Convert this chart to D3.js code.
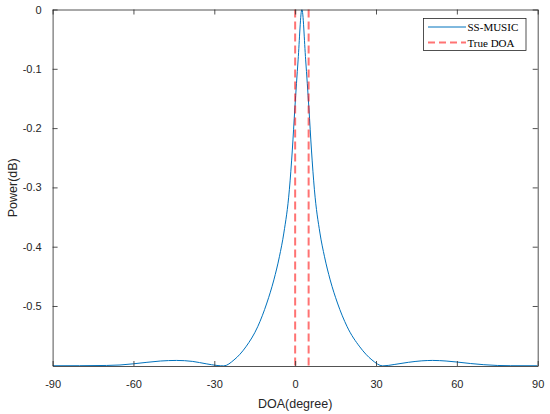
<!DOCTYPE html>
<html>
<head>
<meta charset="utf-8">
<script src="https://cdn.jsdelivr.net/npm/d3@7"></script>
<style>
  body { margin: 0; background: #fff; }
  text { font-family: "Liberation Sans", Arial, sans-serif; }
</style>
</head>
<body>
<div id="chart"></div>
<script>
// spectrum (degree, dB)
const doa = [-90, -80, -70, -65, -60, -55, -50, -44, -38, -33, -29, -26.5,
  -22.7, -18.3, -13.9, -10.5, -7.9, -5.85, -4.2, -2.15, -1.05, -0.1, 1.1, 2.5,
  3.9, 5.1, 6.05, 7.15, 9.2, 10.9, 13.0, 15.7, 19.3, 24.0, 28.5, 32.5,
  37, 42, 47, 51, 56, 60, 65, 70, 75, 80, 90];
const power = [-0.6008, -0.6007, -0.6003, -0.5995, -0.5975, -0.595, -0.5928, -0.5918, -0.5935, -0.5975, -0.6003, -0.601,
  -0.591, -0.569, -0.535, -0.495, -0.456, -0.417, -0.377, -0.304, -0.237, -0.166, -0.085, 0,
  -0.085, -0.166, -0.237, -0.304, -0.377, -0.417, -0.456, -0.495, -0.535, -0.569, -0.591, -0.601,
  -0.5985, -0.595, -0.5925, -0.5918, -0.5928, -0.5945, -0.597, -0.599, -0.6003, -0.6007, -0.6008];
const trueDoa = [0, 5];
const xTicks = [-90, -60, -30, 0, 30, 60, 90];
const yTicks = [0, -0.1, -0.2, -0.3, -0.4, -0.5];
const legendLabels = ["SS-MUSIC", "True DOA"];

const width = 550;
const height = 414;
const margin = { top: 9.5, bottom: 48, left: 52.6, right: 12.3 };
const axisColor = "#262626";

const svg = d3.select("#chart")
  .append("svg")
  .attr("width", width)
  .attr("height", height);

const x = d3.scaleLinear()
  .domain([-90, 90])
  .range([margin.left, width - margin.right]);

const y = d3.scaleLinear()
  .domain([-0.6012, 0])
  .range([height - margin.bottom, margin.top]);

svg.append("clipPath").attr("id", "clip")
  .append("rect")
  .attr("x", margin.left)
  .attr("y", margin.top)
  .attr("width", width - margin.left - margin.right)
  .attr("height", height - margin.top - margin.bottom);

// spectrum
const data = doa.map((d, i) => ({ doa: d, power: power[i] }));
const line = d3.line()
  .x(d => x(d.doa))
  .y(d => y(d.power))
  .curve(d3.curveMonotoneX);

svg.append("path")
  .datum(data)
  .attr("clip-path", "url(#clip)")
  .attr("fill", "none")
  .attr("stroke", "#0072BD")
  .attr("stroke-width", 1)
  .attr("d", line);

// true doa markers
svg.selectAll(".true-doa")
  .data(trueDoa)
  .enter().append("line")
  .attr("class", "true-doa")
  .attr("x1", d => x(d))
  .attr("x2", d => x(d))
  .attr("y1", y(0))
  .attr("y2", y.range()[0])
  .attr("stroke", "#ff0000")
  .attr("stroke-opacity", 0.55)
  .attr("stroke-width", 2)
  .attr("stroke-dasharray", "8,4");

// axes, matlab style box with inward ticks
const tick = 5;
const fmt = d => String(d);
const axBottom = svg.append("g")
  .attr("transform", `translate(0,${height - margin.bottom})`)
  .call(d3.axisBottom(x).tickValues(xTicks).tickFormat(fmt).tickSizeInner(-tick).tickSizeOuter(0).tickPadding(14));
const axLeft = svg.append("g")
  .attr("transform", `translate(${margin.left},0)`)
  .call(d3.axisLeft(y).tickValues(yTicks).tickFormat(fmt)
    .tickSizeInner(-tick).tickSizeOuter(0).tickPadding(11));
const axTop = svg.append("g")
  .attr("transform", `translate(0,${margin.top})`)
  .call(d3.axisTop(x).tickValues(xTicks).tickSizeInner(-tick).tickSizeOuter(0).tickFormat(""));
const axRight = svg.append("g")
  .attr("transform", `translate(${width - margin.right},0)`)
  .call(d3.axisRight(y).tickValues(yTicks).tickSizeInner(-tick).tickSizeOuter(0).tickFormat(""));

[axBottom, axLeft, axTop, axRight].forEach(g => {
  g.select(".domain").attr("stroke", axisColor).attr("stroke-width", 0.8);
  g.selectAll(".tick line").attr("stroke", axisColor).attr("stroke-width", 0.8);
  g.selectAll(".tick text")
    .attr("fill", axisColor)
    .style("font-size", "11px")
    .style("font-family", "'Liberation Sans', Arial, sans-serif");
});

svg.append("text")
  .attr("x", x(0))
  .attr("y", 408)
  .attr("text-anchor", "middle")
  .attr("fill", axisColor)
  .style("font-size", "12.5px")
  .text("DOA(degree)");

svg.append("text")
  .attr("transform", `translate(17,${(margin.top + height - margin.bottom) / 2}) rotate(-90)`)
  .attr("text-anchor", "middle")
  .attr("fill", axisColor)
  .style("font-size", "12.5px")
  .text("Power(dB)");

// legend
const legend = svg.append("g").attr("transform", "translate(423.5,18.5)");
legend.append("rect")
  .attr("width", 102.5)
  .attr("height", 32)
  .attr("fill", "#fff")
  .attr("stroke", axisColor)
  .attr("stroke-width", 0.8);

const rows = legend.selectAll(".row")
  .data(legendLabels)
  .enter().append("g")
  .attr("transform", (d, i) => `translate(0,${8.5 + i * 15.5})`);

rows.append("line")
  .attr("x1", 4.5)
  .attr("x2", 42.5)
  .attr("stroke", (d, i) => i === 0 ? "#0072BD" : "#ff0000")
  .attr("stroke-opacity", (d, i) => i === 0 ? 1 : 0.55)
  .attr("stroke-width", (d, i) => i === 0 ? 1 : 2)
  .attr("stroke-dasharray", (d, i) => i === 0 ? null : "7,4");

rows.append("text")
  .attr("x", 44)
  .attr("y", 4)
  .attr("fill", "#000")
  .style("font-family", "'Liberation Serif', 'Times New Roman', serif")
  .style("font-size", "11px")
  .text(d => d);
</script>
</body>
</html>
